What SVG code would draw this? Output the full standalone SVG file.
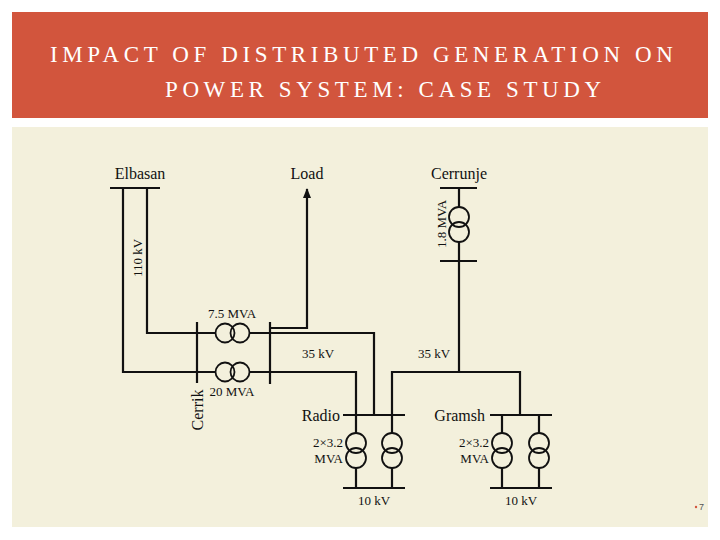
<svg xmlns="http://www.w3.org/2000/svg" width="720" height="540" viewBox="0 0 720 540">
<style>
.w{stroke:#111;stroke-width:2.2;fill:none}
.c{stroke:#111;stroke-width:1.8;fill:none}
.t{font-family:"Liberation Serif",serif;font-size:16px;fill:#111}
.s{font-family:"Liberation Serif",serif;font-size:13px;fill:#111}
.h{font-family:"Liberation Serif",serif;font-size:23px;fill:#fff;letter-spacing:4.6px}
</style>
<defs><marker id="ar" markerWidth="10" markerHeight="8" refX="9" refY="4" orient="auto" markerUnits="userSpaceOnUse"><path d="M0,0 L10,4 L0,8 Z" fill="#111"/></marker></defs>
<rect width="720" height="540" fill="#fff"/>
<rect x="12" y="12" width="696" height="106" fill="#d2553d"/>
<rect x="12" y="127" width="696" height="400" fill="#f3f0dc"/>
<text class="h" x="50" y="62">IMPACT OF DISTRIBUTED GENERATION ON</text>
<text class="h" x="165" y="97">POWER SYSTEM: CASE STUDY</text>
<g id="connectors">
<path class="w" d="M123,188 V372 H197 M147,188 V333 H197 M249,333 H270 M249,372 H270 M197,333 H216 M197,372 H216"/>
<path class="w" d="M270,328 H307 V189" marker-end="url(#ar)"/>
<path class="w" d="M270,333 H374 V415 M270,372 H356 V433 M392,433 V372 H520 V415 M459,188 V207 M459,242 V372 M502,415 V433 M539,415 V433 M356,468 V488 M392,468 V488 M502,468 V488 M539,468 V488"/>
</g>
<g id="elbasan"><path class="w" d="M110,188 H160"/><text class="t" x="140" y="179" text-anchor="middle">Elbasan</text><text class="s" transform="translate(142,258) rotate(-90)" text-anchor="middle">110 kV</text></g>
<g id="load"><text class="t" x="307" y="179" text-anchor="middle">Load</text></g>
<g id="cerrik"><path class="w" d="M197,322 V383"/><text class="t" transform="translate(203,410) rotate(-90)" text-anchor="middle">Cerrik</text></g>
<g id="bus35"><path class="w" d="M270,322 V384"/></g>
<g id="t75"><circle class="c" cx="225" cy="333" r="9.5"/><circle class="c" cx="240" cy="333" r="9.5"/><text class="s" x="232" y="318" text-anchor="middle">7.5  MVA</text></g>
<g id="t20"><circle class="c" cx="225" cy="372" r="9.5"/><circle class="c" cx="240" cy="372" r="9.5"/><text class="s" x="232" y="396" text-anchor="middle">20  MVA</text></g>
<g id="cerrunje"><path class="w" d="M440,188 H477 M440,261 H477"/><circle class="c" cx="459" cy="217" r="10"/><circle class="c" cx="459" cy="232" r="10"/><text class="t" x="459" y="179" text-anchor="middle">Cerrunje</text><text class="s" transform="translate(446,224) rotate(-90)" text-anchor="middle">1.8 MVA</text></g>
<g id="labels35"><text class="s" x="318" y="358" text-anchor="middle">35 kV</text><text class="s" x="434" y="358" text-anchor="middle">35 kV</text></g>
<g id="radio"><path class="w" d="M343,415 H405 M343,488 H405"/>
<circle class="c" cx="356" cy="443" r="10"/><circle class="c" cx="356" cy="458" r="10"/><circle class="c" cx="392" cy="443" r="10"/><circle class="c" cx="392" cy="458" r="10"/>
<text class="t" x="340" y="421" text-anchor="end">Radio</text><text class="s" x="343" y="447" text-anchor="end">2×3.2</text><text class="s" x="343" y="463" text-anchor="end">MVA</text><text class="s" x="374" y="505" text-anchor="middle">10 kV</text></g>
<g id="gramsh"><path class="w" d="M490,415 H552 M490,488 H552"/>
<circle class="c" cx="502" cy="443" r="10"/><circle class="c" cx="502" cy="458" r="10"/><circle class="c" cx="539" cy="443" r="10"/><circle class="c" cx="539" cy="458" r="10"/>
<text class="t" x="485" y="421" text-anchor="end">Gramsh</text><text class="s" x="489" y="447" text-anchor="end">2×3.2</text><text class="s" x="489" y="463" text-anchor="end">MVA</text><text class="s" x="521" y="505" text-anchor="middle">10 kV</text></g>
<circle cx="696" cy="507" r="1.2" fill="#d2553d"/>
<text x="699" y="510" font-family="Liberation Sans,sans-serif" font-size="9" fill="#555">7</text>
</svg>
